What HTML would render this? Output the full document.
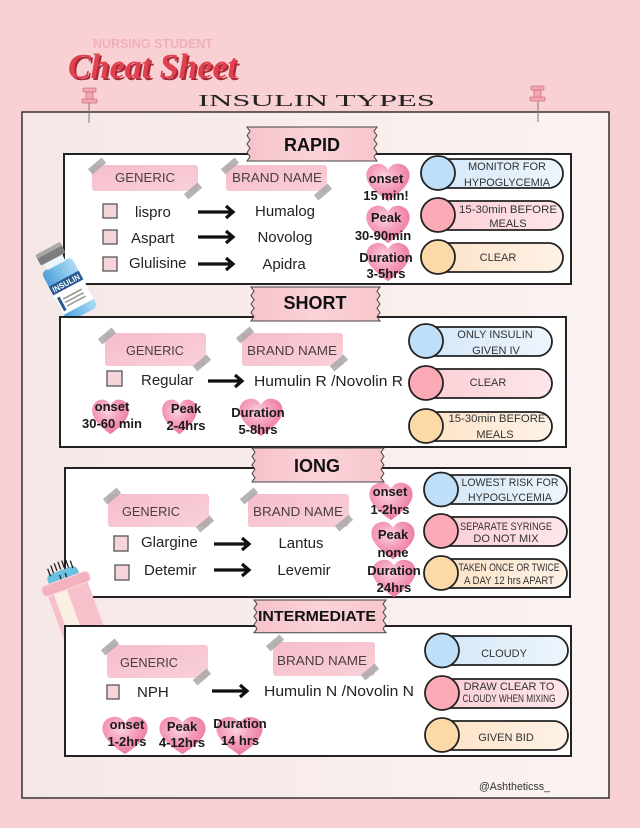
<!DOCTYPE html>
<html><head><meta charset="utf-8">
<style>
html,body{margin:0;padding:0;background:#f9d1d5;}
svg{display:block;}
.s{font-family:"Liberation Sans",sans-serif;}
.lab{font-family:"Liberation Sans",sans-serif;font-size:13px;fill:#4a3f44;text-anchor:middle;}
.nm{font-family:"Liberation Sans",sans-serif;font-size:15px;fill:#222;}
.hb{font-family:"Liberation Sans",sans-serif;font-size:13px;font-weight:bold;fill:#1a1a1a;text-anchor:middle;}
.pt{font-family:"Liberation Sans",sans-serif;font-size:11px;fill:#333;text-anchor:middle;}
.tab{font-family:"Liberation Sans",sans-serif;font-weight:bold;fill:#111;text-anchor:middle;}
.arr{stroke:#111;stroke-width:3.2;fill:none;}
</style></head>
<body>
<svg width="640" height="828" viewBox="0 0 640 828" xmlns="http://www.w3.org/2000/svg">
<defs>
 <radialGradient id="hg" cx="0.42" cy="0.35" r="0.7">
  <stop offset="0" stop-color="#fbd3df"/>
  <stop offset="0.45" stop-color="#f59fbb"/>
  <stop offset="1" stop-color="#ea739b"/>
 </radialGradient>
 <linearGradient id="tg" x1="0" x2="1" y1="0" y2="0">
  <stop offset="0" stop-color="#f6c2ca"/><stop offset="0.5" stop-color="#fad3d8"/><stop offset="1" stop-color="#f7c6cd"/>
 </linearGradient>
 <linearGradient id="lg" x1="0" x2="1" y1="0" y2="1">
  <stop offset="0" stop-color="#f6bdca"/><stop offset="1" stop-color="#f9d0d8"/>
 </linearGradient>
 <linearGradient id="bp" x1="0" x2="1"><stop offset="0" stop-color="#d3e7f8"/><stop offset="1" stop-color="#edf5fc"/></linearGradient>
 <linearGradient id="pp" x1="0" x2="1"><stop offset="0" stop-color="#fbcdd4"/><stop offset="1" stop-color="#fde7ea"/></linearGradient>
 <linearGradient id="op" x1="0" x2="1"><stop offset="0" stop-color="#fde2c6"/><stop offset="1" stop-color="#fdf2e6"/></linearGradient>
 <linearGradient id="fg" x1="0" x2="1"><stop offset="0" stop-color="#f5e7e5"/><stop offset="1" stop-color="#fbf3f1"/></linearGradient>
 <linearGradient id="vb" x1="0" x2="1"><stop offset="0" stop-color="#4f9fd8"/><stop offset="0.5" stop-color="#7cc0ea"/><stop offset="1" stop-color="#aedaf4"/></linearGradient>
 <symbol id="ht" viewBox="0 0 100 90" preserveAspectRatio="none">
  <path d="M50,88 C22,68 3,50 3,30 C3,14 15,4 29,4 C39,4 46,10 50,18 C54,10 61,4 71,4 C85,4 97,14 97,30 C97,50 78,68 50,88 Z" fill="url(#hg)"/>
 </symbol>
</defs>

<rect x="0" y="0" width="640" height="828" fill="#f9d1d5"/>

<text x="93" y="48" class="s" font-size="12.5" font-weight="bold" fill="#f0afbc" textLength="120" lengthAdjust="spacingAndGlyphs">NURSING STUDENT</text>
<text x="70" y="80" font-family="Liberation Serif,serif" font-size="35" font-weight="bold" font-style="italic" fill="#a82a38" textLength="169" lengthAdjust="spacingAndGlyphs">Cheat Sheet</text>
<text x="68" y="78" font-family="Liberation Serif,serif" font-size="35" font-weight="bold" font-style="italic" fill="#e1404f" textLength="169" lengthAdjust="spacingAndGlyphs">Cheat Sheet</text>

<rect x="22" y="112" width="587" height="686" fill="url(#fg)" stroke="#333" stroke-width="1.5"/>

<text x="198" y="106" font-family="Liberation Serif,serif" font-size="17" fill="#222" textLength="237" lengthAdjust="spacingAndGlyphs">INSULIN TYPES</text>

<g fill="#f3a6b2" stroke="#d0727f" stroke-width="0.8">
 <line x1="89" y1="100" x2="89" y2="123" stroke="#777" stroke-width="1"/>
 <rect x="83" y="88" width="13" height="4" rx="1"/>
 <rect x="86" y="92" width="7" height="8"/>
 <rect x="82" y="99" width="15" height="4" rx="1"/>
 <line x1="538" y1="98" x2="538" y2="122" stroke="#777" stroke-width="1"/>
 <rect x="531" y="86" width="13" height="4" rx="1"/>
 <rect x="534" y="90" width="7" height="8"/>
 <rect x="530" y="97" width="15" height="4" rx="1"/>
</g>

<!-- RAPID -->
<rect x="64" y="154" width="507" height="130" fill="#fff" stroke="#222" stroke-width="2"/>
<path d="M247,127 h130 l-3,4.25 l3,4.25 l-3,4.25 l3,4.25 l-3,4.25 l3,4.25 l-3,4.25 l3,4.25 h-130 l3,-4.25 l-3,-4.25 l3,-4.25 l-3,-4.25 l3,-4.25 l-3,-4.25 l3,-4.25 l-3,-4.25 Z" fill="url(#tg)" stroke="#444" stroke-width="1"/>
<text x="312" y="151" class="tab" font-size="18">RAPID</text>

<rect x="92" y="165" width="106" height="26" rx="3" fill="url(#lg)"/>
<rect x="226" y="165" width="101" height="26" rx="3" fill="url(#lg)"/>
<g fill="#a9a9a9" opacity="0.85">
 <rect x="-9" y="-3.5" width="18" height="7" transform="translate(97,166) rotate(-40)"/>
 <rect x="-9" y="-3.5" width="18" height="7" transform="translate(193,191) rotate(-40)"/>
 <rect x="-9" y="-3.5" width="18" height="7" transform="translate(230,166) rotate(-40)"/>
 <rect x="-9" y="-3.5" width="18" height="7" transform="translate(323,192) rotate(-40)"/>
</g>
<text x="145" y="182" class="lab" textLength="60" lengthAdjust="spacingAndGlyphs">GENERIC</text>
<text x="277" y="182" class="lab" textLength="90" lengthAdjust="spacingAndGlyphs">BRAND NAME</text>

<g fill="#f6d5da" stroke="#555" stroke-width="1.3">
 <rect x="103" y="204" width="14" height="14"/>
 <rect x="103" y="230" width="14" height="14"/>
 <rect x="103" y="257" width="14" height="14"/>
</g>
<text x="135" y="217" class="nm">lispro</text>
<text x="131" y="243" class="nm">Aspart</text>
<text x="129" y="268" class="nm">Glulisine</text>
<path class="arr" d="M198,212 H233 M226,206 L233,212 L226,218"/>
<path class="arr" d="M198,237 H233 M226,231 L233,237 L226,243"/>
<path class="arr" d="M198,264 H233 M226,258 L233,264 L226,270"/>
<text x="285" y="216" class="nm" text-anchor="middle">Humalog</text>
<text x="285" y="242" class="nm" text-anchor="middle">Novolog</text>
<text x="284" y="269" class="nm" text-anchor="middle">Apidra</text>

<use href="#ht" x="365" y="162" width="46" height="40"/>
<use href="#ht" x="365" y="204" width="46" height="40"/>
<use href="#ht" x="365" y="241" width="46" height="41"/>
<text x="386" y="183" class="hb">onset</text>
<text x="386" y="200" class="hb">15 min!</text>
<text x="386" y="222" class="hb">Peak</text>
<text x="383" y="240" class="hb">30-90min</text>
<text x="386" y="262" class="hb">Duration</text>
<text x="386" y="278" class="hb">3-5hrs</text>

<g stroke="#222" stroke-width="1.8">
 <rect x="430" y="159" width="133" height="29" rx="14.5" fill="url(#bp)"/>
 <circle cx="438" cy="173" r="17" fill="#bfdff8"/>
 <rect x="430" y="201" width="133" height="29" rx="14.5" fill="url(#pp)"/>
 <circle cx="438" cy="215" r="17" fill="#fbaab6"/>
 <rect x="430" y="243" width="133" height="29" rx="14.5" fill="url(#op)"/>
 <circle cx="438" cy="257" r="17" fill="#fdd9a8"/>
</g>
<text x="507" y="170" class="pt">MONITOR FOR</text>
<text x="507" y="186" class="pt" textLength="86" lengthAdjust="spacingAndGlyphs">HYPOGLYCEMIA</text>
<text x="508" y="213" class="pt" textLength="98" lengthAdjust="spacingAndGlyphs">15-30min BEFORE</text>
<text x="508" y="227" class="pt">MEALS</text>
<text x="498" y="261" class="pt">CLEAR</text>

<!-- vial -->
<g transform="translate(66,283) rotate(-28)">
 <rect x="-17" y="-21" width="34" height="57" rx="5" fill="url(#vb)"/>
 <rect x="-10" y="-28" width="20" height="8" fill="#eef6fb"/>
 <rect x="-14" y="-39" width="28" height="12" rx="2" fill="#7d7d7d"/>
 <rect x="-14" y="-39" width="28" height="4" rx="1" fill="#a9a9a9"/>
 <rect x="-17" y="-5" width="34" height="32" fill="#ffffff"/>
 <rect x="-17" y="-5" width="34" height="10" fill="#2a5a92"/>
 <text x="0" y="3" font-family="Liberation Sans,sans-serif" font-size="8" font-weight="bold" fill="#fff" text-anchor="middle" textLength="30" lengthAdjust="spacingAndGlyphs">INSULIN</text>
 <rect x="-10" y="12" width="21" height="1.6" fill="#999"/>
 <rect x="-10" y="16" width="21" height="1.6" fill="#999"/>
 <rect x="-10" y="20" width="21" height="1.6" fill="#999"/>
 <rect x="-15" y="9" width="3" height="15" fill="#2a5a92"/>
</g>

<!-- SHORT -->
<rect x="60" y="317" width="506" height="130" fill="#fff" stroke="#222" stroke-width="2"/>
<path d="M251,287 h129 l-3,4.25 l3,4.25 l-3,4.25 l3,4.25 l-3,4.25 l3,4.25 l-3,4.25 l3,4.25 h-129 l3,-4.25 l-3,-4.25 l3,-4.25 l-3,-4.25 l3,-4.25 l-3,-4.25 l3,-4.25 l-3,-4.25 Z" fill="url(#tg)" stroke="#444" stroke-width="1"/>
<text x="315" y="309" class="tab" font-size="18">SHORT</text>

<rect x="105" y="333" width="101" height="33" rx="3" fill="url(#lg)"/>
<rect x="242" y="333" width="101" height="33" rx="3" fill="url(#lg)"/>
<g fill="#a9a9a9" opacity="0.85">
 <rect x="-9" y="-3.5" width="18" height="7" transform="translate(107,336) rotate(-40)"/>
 <rect x="-9" y="-3.5" width="18" height="7" transform="translate(202,363) rotate(-40)"/>
 <rect x="-9" y="-3.5" width="18" height="7" transform="translate(245,335) rotate(-40)"/>
 <rect x="-9" y="-3.5" width="18" height="7" transform="translate(339,363) rotate(-40)"/>
</g>
<text x="155" y="355" class="lab" textLength="58" lengthAdjust="spacingAndGlyphs">GENERIC</text>
<text x="292" y="355" class="lab" textLength="90" lengthAdjust="spacingAndGlyphs">BRAND NAME</text>
<rect x="107" y="371" width="15" height="15" fill="#f6d5da" stroke="#555" stroke-width="1.3"/>
<text x="141" y="385" class="nm">Regular</text>
<path class="arr" d="M208,381 H242 M235,375 L242,381 L235,387"/>
<text x="254" y="386" class="nm" textLength="149" lengthAdjust="spacingAndGlyphs">Humulin R /Novolin R</text>

<use href="#ht" x="91" y="398" width="39" height="37"/>
<use href="#ht" x="161" y="398" width="37" height="37"/>
<use href="#ht" x="238" y="397" width="46" height="40"/>
<text x="112" y="411" class="hb">onset</text>
<text x="112" y="428" class="hb">30-60 min</text>
<text x="186" y="413" class="hb">Peak</text>
<text x="186" y="430" class="hb">2-4hrs</text>
<text x="258" y="417" class="hb">Duration</text>
<text x="258" y="434" class="hb">5-8hrs</text>

<g stroke="#222" stroke-width="1.8">
 <rect x="418" y="327" width="134" height="29" rx="14.5" fill="url(#bp)"/>
 <circle cx="426" cy="341" r="17" fill="#bfdff8"/>
 <rect x="418" y="369" width="134" height="29" rx="14.5" fill="url(#pp)"/>
 <circle cx="426" cy="383" r="17" fill="#fbaab6"/>
 <rect x="418" y="412" width="134" height="29" rx="14.5" fill="url(#op)"/>
 <circle cx="426" cy="426" r="17" fill="#fdd9a8"/>
</g>
<text x="495" y="338" class="pt">ONLY INSULIN</text>
<text x="496" y="354" class="pt">GIVEN IV</text>
<text x="488" y="386" class="pt">CLEAR</text>
<text x="497" y="422" class="pt" textLength="97" lengthAdjust="spacingAndGlyphs">15-30min BEFORE</text>
<text x="495" y="438" class="pt">MEALS</text>

<!-- LONG -->
<rect x="65" y="468" width="505" height="129" fill="#fff" stroke="#222" stroke-width="2"/>
<path d="M252,448 h132 l-3,4.25 l3,4.25 l-3,4.25 l3,4.25 l-3,4.25 l3,4.25 l-3,4.25 l3,4.25 h-132 l3,-4.25 l-3,-4.25 l3,-4.25 l-3,-4.25 l3,-4.25 l-3,-4.25 l3,-4.25 l-3,-4.25 Z" fill="url(#tg)" stroke="#444" stroke-width="1"/>
<text x="317" y="472" class="tab" font-size="18">IONG</text>

<rect x="108" y="494" width="101" height="33" rx="3" fill="url(#lg)"/>
<rect x="248" y="494" width="101" height="33" rx="3" fill="url(#lg)"/>
<g fill="#a9a9a9" opacity="0.85">
 <rect x="-9" y="-3.5" width="18" height="7" transform="translate(112,496) rotate(-40)"/>
 <rect x="-9" y="-3.5" width="18" height="7" transform="translate(205,524) rotate(-40)"/>
 <rect x="-9" y="-3.5" width="18" height="7" transform="translate(249,496) rotate(-40)"/>
 <rect x="-9" y="-3.5" width="18" height="7" transform="translate(344,523) rotate(-40)"/>
</g>
<text x="151" y="516" class="lab" textLength="58" lengthAdjust="spacingAndGlyphs">GENERIC</text>
<text x="298" y="516" class="lab" textLength="90" lengthAdjust="spacingAndGlyphs">BRAND NAME</text>
<g fill="#f6d5da" stroke="#555" stroke-width="1.3">
 <rect x="114" y="536" width="14" height="15"/>
 <rect x="115" y="565" width="14" height="15"/>
</g>
<text x="141" y="547" class="nm">Glargine</text>
<text x="144" y="575" class="nm">Detemir</text>
<path class="arr" d="M214,544 H249 M242,538 L249,544 L242,550"/>
<path class="arr" d="M214,570 H249 M242,564 L249,570 L242,576"/>
<text x="301" y="548" class="nm" text-anchor="middle">Lantus</text>
<text x="304" y="575" class="nm" text-anchor="middle">Levemir</text>

<use href="#ht" x="368" y="481" width="46" height="40"/>
<use href="#ht" x="370" y="520" width="46" height="40"/>
<use href="#ht" x="371" y="558" width="46" height="40"/>
<text x="390" y="496" class="hb">onset</text>
<text x="390" y="514" class="hb">1-2hrs</text>
<text x="393" y="539" class="hb">Peak</text>
<text x="393" y="557" class="hb">none</text>
<text x="394" y="575" class="hb">Duration</text>
<text x="394" y="592" class="hb">24hrs</text>

<g stroke="#222" stroke-width="1.8">
 <rect x="433" y="475" width="134" height="29" rx="14.5" fill="url(#bp)"/>
 <circle cx="441" cy="489.5" r="17" fill="#bfdff8"/>
 <rect x="433" y="517" width="134" height="29" rx="14.5" fill="url(#pp)"/>
 <circle cx="441" cy="531" r="17" fill="#fbaab6"/>
 <rect x="433" y="559" width="134" height="29" rx="14.5" fill="url(#op)"/>
 <circle cx="441" cy="573" r="17" fill="#fdd9a8"/>
</g>
<text x="510" y="486" class="pt" textLength="97" lengthAdjust="spacingAndGlyphs">LOWEST RISK FOR</text>
<text x="510" y="501" class="pt" textLength="84" lengthAdjust="spacingAndGlyphs">HYPOGLYCEMIA</text>
<text x="506" y="530" class="pt" font-size="9.5" textLength="92" lengthAdjust="spacingAndGlyphs">SEPARATE SYRINGE</text>
<text x="506" y="542" class="pt" font-size="9.5">DO NOT MIX</text>
<text x="509" y="571" class="pt" font-size="9.5" textLength="101" lengthAdjust="spacingAndGlyphs">TAKEN ONCE OR TWICE</text>
<text x="509" y="584" class="pt" font-size="9.5" textLength="90" lengthAdjust="spacingAndGlyphs">A DAY 12 hrs APART</text>

<!-- jar -->
<g transform="translate(74,606) rotate(-20)">
 <rect x="-16" y="-38" width="32" height="14" rx="5" fill="#69c0e0"/>
 <g stroke="#222" stroke-width="1.3">
  <line x1="-12" y1="-44" x2="-12" y2="-36"/><line x1="-8" y1="-46" x2="-8" y2="-38"/>
  <line x1="-4" y1="-47" x2="-4" y2="-39"/><line x1="0" y1="-47" x2="0" y2="-39"/>
  <line x1="4" y1="-47" x2="4" y2="-39"/><line x1="8" y1="-46" x2="8" y2="-38"/>
  <line x1="12" y1="-44" x2="12" y2="-36"/><line x1="-3" y1="-34" x2="-3" y2="-28"/>
  <line x1="3" y1="-34" x2="3" y2="-28"/>
 </g>
 <rect x="-21" y="-22" width="42" height="62" rx="5" fill="#f7c0cb"/>
 <rect x="-15" y="-18" width="14" height="52" fill="#fbeee2"/>
 <rect x="-25" y="-29" width="50" height="11" rx="4" fill="#f4b2c0" stroke="#fbd9df" stroke-width="1"/>
</g>

<!-- INTERMEDIATE -->
<rect x="65" y="626" width="506" height="130" fill="#fff" stroke="#222" stroke-width="2"/>
<path d="M254,600 h132 l-3,4.1 l3,4.1 l-3,4.1 l3,4.1 l-3,4.1 l3,4.1 l-3,4.1 l3,4.1 h-132 l3,-4.1 l-3,-4.1 l3,-4.1 l-3,-4.1 l3,-4.1 l-3,-4.1 l3,-4.1 l-3,-4.1 Z" fill="url(#tg)" stroke="#444" stroke-width="1"/>
<text x="317" y="621" class="tab" font-size="15" textLength="118" lengthAdjust="spacingAndGlyphs">INTERMEDIATE</text>

<rect x="107" y="645" width="101" height="33" rx="3" fill="url(#lg)"/>
<rect x="273" y="642" width="102" height="34" rx="3" fill="url(#lg)"/>
<g fill="#a9a9a9" opacity="0.85">
 <rect x="-9" y="-3.5" width="18" height="7" transform="translate(110,647) rotate(-40)"/>
 <rect x="-9" y="-3.5" width="18" height="7" transform="translate(202,677) rotate(-40)"/>
 <rect x="-9" y="-3.5" width="18" height="7" transform="translate(275,643) rotate(-40)"/>
 <rect x="-9" y="-3.5" width="18" height="7" transform="translate(370,672) rotate(-40)"/>
</g>
<text x="149" y="667" class="lab" textLength="58" lengthAdjust="spacingAndGlyphs">GENERIC</text>
<text x="322" y="665" class="lab" textLength="90" lengthAdjust="spacingAndGlyphs">BRAND NAME</text>
<rect x="107" y="685" width="12" height="14" fill="#f6d5da" stroke="#555" stroke-width="1.3"/>
<text x="137" y="697" class="nm">NPH</text>
<path class="arr" d="M212,691 H247 M240,685 L247,691 L240,697"/>
<text x="264" y="696" class="nm" textLength="150" lengthAdjust="spacingAndGlyphs">Humulin N /Novolin N</text>

<use href="#ht" x="101" y="715" width="48" height="40"/>
<use href="#ht" x="158" y="715" width="49" height="40"/>
<use href="#ht" x="215" y="715" width="49" height="41"/>
<text x="127" y="729" class="hb">onset</text>
<text x="127" y="746" class="hb">1-2hrs</text>
<text x="182" y="731" class="hb">Peak</text>
<text x="182" y="747" class="hb">4-12hrs</text>
<text x="240" y="728" class="hb">Duration</text>
<text x="240" y="745" class="hb">14 hrs</text>

<g stroke="#222" stroke-width="1.8">
 <rect x="434" y="636" width="134" height="29" rx="14.5" fill="url(#bp)"/>
 <circle cx="442" cy="650.5" r="17" fill="#bfdff8"/>
 <rect x="434" y="679" width="134" height="29" rx="14.5" fill="url(#pp)"/>
 <circle cx="442" cy="693" r="17" fill="#fbaab6"/>
 <rect x="434" y="721" width="134" height="29" rx="14.5" fill="url(#op)"/>
 <circle cx="442" cy="735" r="17" fill="#fdd9a8"/>
</g>
<text x="504" y="657" class="pt">CLOUDY</text>
<text x="509" y="690" class="pt" font-size="8.5">DRAW CLEAR TO</text>
<text x="509" y="702" class="pt" font-size="8.5" textLength="93" lengthAdjust="spacingAndGlyphs">CLOUDY WHEN MIXING</text>
<text x="506" y="741" class="pt" font-size="10">GIVEN BID</text>

<text x="479" y="790" class="s" font-size="11" fill="#333" textLength="71" lengthAdjust="spacingAndGlyphs">@Ashtheticss_</text>
</svg>
</body></html>
